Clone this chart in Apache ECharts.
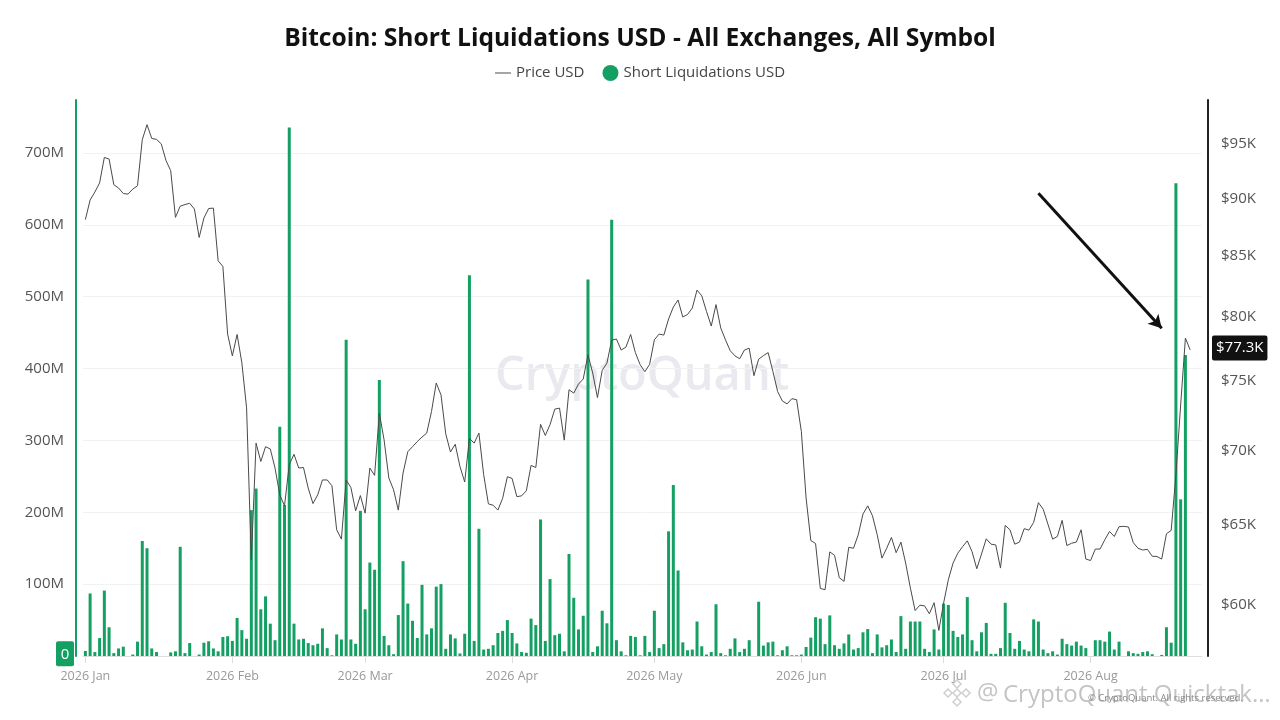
<!DOCTYPE html>
<html><head><meta charset="utf-8">
<style>html,body{margin:0;padding:0;background:#fff}#c{width:1280px;height:720px}</style>
<script src="https://cdn.jsdelivr.net/npm/echarts@6/dist/echarts.min.js"></script>
</head><body><div id="c"></div>
<script>
const startDate = [2026, 0, 1];
const dayCount = 236;
const monthTicks = ['2026-01-01','2026-02-01','2026-03-01','2026-04-01','2026-05-01','2026-06-01','2026-07-01','2026-08-01'];
const monthLabels = ['2026 Jan','2026 Feb','2026 Mar','2026 Apr','2026 May','2026 Jun','2026 Jul','2026 Aug'];
const leftTicks = [100e6,200e6,300e6,400e6,500e6,600e6,700e6];
const rightTicks = [60000,65000,70000,75000,80000,85000,90000,95000];
const priceUSD = [
88020,89760,90470,91300,93650,93500,91140,90840,90340,90290,90740,91050,95320,96760,95440,95350,94930,93370,92420,88220,
89210,89350,89470,88950,86470,88160,89000,89040,84480,84010,78530,76840,78500,76320,72960,62700,70440,69160,70190,70030,
68710,66900,66170,68940,69660,68710,68750,67350,66320,66900,67900,67900,67510,64610,64010,67900,67390,65840,66850,65690,
68710,68210,72580,70670,68030,67240,65890,68370,69840,70190,70550,70870,71150,72700,74790,73910,71100,69820,70360,68820,
67760,70770,70440,71150,68260,66300,66210,65890,66670,68120,68000,66780,66830,67170,68890,68750,71770,70980,71750,72870,
72940,70650,74290,74040,74710,75090,76920,75540,73710,75740,76290,78060,78140,77290,77510,78500,77090,76170,75640,76190,
78080,78530,78450,79720,80670,81240,79880,80080,80590,82050,81580,80320,79160,80870,79010,78080,77240,76840,76620,77290,
77430,75340,76590,76860,77090,75660,74160,73460,73250,73630,73560,71270,66690,63920,63730,60940,60860,63200,62990,61600,
61370,63490,63430,64290,65630,66170,65520,64290,62810,63430,64120,63150,63820,62500,60960,59610,59930,59890,59420,60080,
58440,60050,61470,62500,63120,63530,63900,63220,62150,63070,64030,63690,63640,62190,64890,64610,63690,63820,64680,64590,
65090,66380,65950,64980,64010,64180,65220,63600,63750,63820,64610,62750,62660,63380,63380,63970,64500,64180,64810,64830,
64790,63790,63430,63320,63360,62930,62910,62750,64350,64570,68260,73170,78220,77300];
const shortLiqM = [
7,87,5.5,25,91,40,4,10.5,13,0,2,20,160,150,10.5,5.5,0,0,5,6.5,
152,4,18,0,2,18.5,20.5,10.5,6.5,26.5,27.5,21,53,36,24,203,233,65,83,45,
22,319,210,735.5,45,23,24,18,15,17,38.5,11,1,30,23,440,23,17,202,65,
130,120,384,28,15,2.5,57,132,73,49,25,99,30,38.5,96.5,100,10,30,24.5,3.5,
31,530,21,177,9,10,15,32,35,50,32,17.5,5.5,4.5,52,43,190,21,107,29,
31,6.5,142,81,37,56,524,5.5,13.5,63,45.5,607,22,6.5,1,28,26.5,1,28,5.5,
63,11,16.5,173.5,238,119,19,8,9,48,13.5,2,5.5,72,4,1,10,24.5,5.5,10,
22,0,75.5,14.5,19,20,1,8,13.5,1,1,2,12.5,25.5,54,52,16.5,56.5,15,10,
17.5,30,9,11,33,37.5,4,30,12,15,23,5.5,55.5,10,48,48,48,10,5.5,37,
9,73,71,35,26.5,30,82,22,6.5,33,46,3,3,11,74,32,10,21,9,6.5,
51,48,9,4,6.5,2,24,16.5,14.5,20,14.5,11,0,22,22,20,34,9,20,0,
6.5,4,3,5.5,6.5,2.5,0,1.5,40,18.5,658,218,419,0];
const titleText = 'Bitcoin: Short Liquidations USD - All Exchanges, All Symbol';
const lastPriceText = '$77.3K';
const lastPriceBadgeAt = 77450;
const zeroText = '0';
const zeroBadgeAt = 3e6;
const arrowFromDate = '2026-07-21', arrowToDate = '2026-08-16';
const arrowFromM = 644, arrowToM = 456;

const GREEN = '#14a062';
const FONT = '"Open Sans","Noto Sans",sans-serif';
const pad = n => String(n).padStart(2,'0');
const dates = Array.from({length:dayCount},(_,i)=>{
  const d = new Date(startDate[0], startDate[1], startDate[2]+i);
  return d.getFullYear()+'-'+pad(d.getMonth()+1)+'-'+pad(d.getDate());
});
const isMonthIdx = (i,v) => monthTicks.includes(v);

const chart = echarts.init(document.getElementById('c'), null, {renderer:'canvas'});
chart.setOption({
  animation:false,
  backgroundColor:'#fff',
  title:{text:titleText,left:'center',top:26,padding:0,
    textStyle:{fontFamily:FONT,fontWeight:700,fontSize:24.6,color:'#111'}},
  legend:{top:65,left:'center',itemGap:18,itemWidth:16,itemHeight:16,padding:0,
    textStyle:{fontFamily:FONT,fontSize:15,color:'#444'},
    data:[{name:'Price USD',icon:'path://M0 7.5H16V8.5H0Z'},{name:'Short Liquidations USD',icon:'circle'}]},
  grid:{left:83,right:78,top:100,bottom:64},
  xAxis:{type:'category',data:dates,boundaryGap:true,
    axisLine:{lineStyle:{color:'#dddddd',width:1}},
    axisTick:{show:true,length:7,alignWithLabel:true,interval:isMonthIdx,lineStyle:{color:'#dddddd'}},
    axisLabel:{interval:isMonthIdx,margin:14,color:'#999',fontFamily:FONT,fontSize:12.5,hideOverlap:false,
      formatter:v=>monthLabels[monthTicks.indexOf(v)]||''},
    splitLine:{show:false}},
  yAxis:[
   {type:'value',position:'left',offset:7,min:0,max:773.7e6,interval:100e6,
    axisLine:{show:true,onZero:false,lineStyle:{color:GREEN,width:2}},
    axisTick:{show:false},
    splitLine:{show:true,showMaxLine:false,showMinLine:false,lineStyle:{color:'#f2f2f2',width:1}},
    axisLabel:{customValues:[zeroBadgeAt].concat(leftTicks),margin:2,fontFamily:FONT,fontSize:15,
      formatter:v=>v===zeroBadgeAt?'{box|'+zeroText+'}':'{n|'+Math.round(v/1e6)+'M}',
      rich:{n:{color:'#555',fontFamily:FONT,fontSize:15,padding:[0,10,0,0]},
        box:{backgroundColor:GREEN,color:'#fff',fontFamily:FONT,fontSize:15,
        padding:[6,5,4,5],borderRadius:2,width:8,align:'center'}}}},
   {type:'log',logBase:10,position:'right',offset:6,min:56970,max:99170,
    axisLine:{show:true,onZero:false,lineStyle:{color:'#222',width:2}},
    axisTick:{show:false},
    splitLine:{show:false},minorSplitLine:{show:false},
    axisLabel:{customValues:rightTicks.concat([lastPriceBadgeAt]),margin:4,fontFamily:FONT,fontSize:15,
      formatter:v=>Math.round(v)===lastPriceBadgeAt?'{cur|'+lastPriceText+'}':'{n|$'+Math.round(v/1000)+'K}',
      rich:{n:{color:'#555',fontFamily:FONT,fontSize:15,padding:[2,0,0,9]},
        cur:{backgroundColor:'#111',color:'#fff',fontFamily:FONT,fontSize:15,padding:[5,4,5,4],borderRadius:2}}}}
  ],
  series:[
   {name:'Price USD',type:'line',yAxisIndex:1,z:5,showSymbol:false,symbol:'none',smooth:false,
    lineStyle:{color:'#4a4a4a',width:1},itemStyle:{color:'#4a4a4a'},
    data:priceUSD},
   {name:'Short Liquidations USD',type:'bar',yAxisIndex:0,z:3,barWidth:3,
    itemStyle:{color:GREEN},
    data:shortLiqM.map(v=>v*1e6),
    markLine:{silent:true,animation:false,symbol:['none','arrow'],symbolSize:[11,13],
      label:{show:false},lineStyle:{color:'#111',width:3,type:'solid'},
      data:[[{coord:[arrowFromDate,arrowFromM*1e6]},{coord:[arrowToDate,arrowToM*1e6]}]]}}
  ],
  graphic:[
   {type:'text',z:-1,left:495,top:353,style:{text:'CryptoQuant',fontFamily:FONT,fontSize:47,fontWeight:600,fill:'#e9e9ef'}},
   {type:'text',z:100,left:1003,top:683,style:{text:'CryptoQuant Quicktak…',fontFamily:FONT,fontSize:24,fill:'#c4c4c4',letterSpacing:1}},
   {type:'text',z:100,left:977,top:681,style:{text:'@',fontFamily:FONT,fontSize:24,fill:'#c4c4c4'}},
   {type:'text',z:101,left:1088,top:693,style:{text:'© CryptoQuant. All rights reserved.',fontFamily:FONT,fontSize:9.5,fill:'#888'}},
   ...[[957,693],[957,684],[948,693],[966,693],[957,702]].map(c=>({type:'polygon',z:100,
      shape:{points:[[c[0],c[1]-4],[c[0]+4,c[1]],[c[0],c[1]+4],[c[0]-4,c[1]]]},
      style:{fill:'#fff',stroke:'#cfcfcf',lineWidth:1.5}}))
  ]
});
</script></body></html>
